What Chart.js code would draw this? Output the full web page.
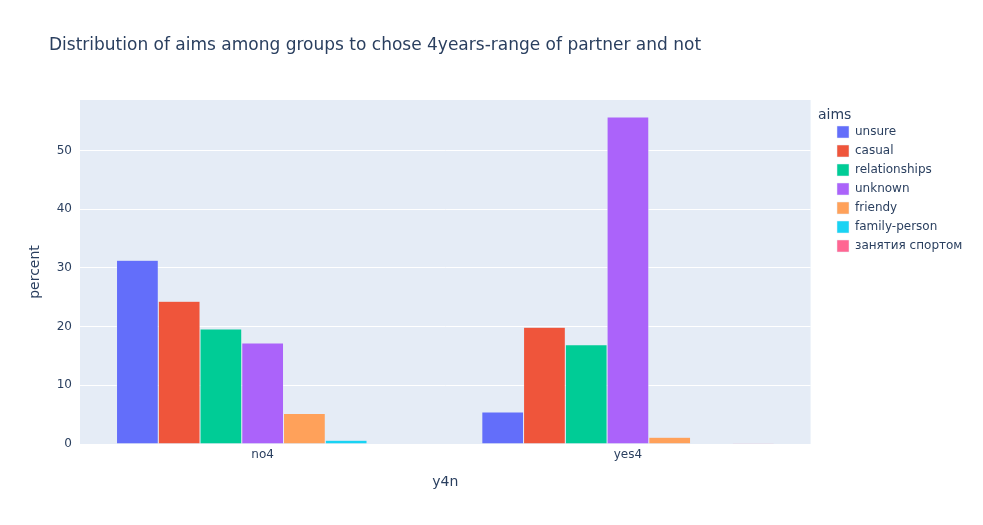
<!DOCTYPE html>
<html lang="en">
<head>
  <meta charset="UTF-8" />
  <title>Distribution of aims</title>
  <script src="https://cdn.jsdelivr.net/npm/chart.js"></script>
  <style>
    body {
      margin: 0;
      background: #ffffff;
    }
    #wrap {
      width: 983px;
      height: 525px;
    }
  </style>
</head>
<body>
  <div id="wrap"><canvas id="aimsChart"></canvas></div>

  <script>
    const groups = ['no4', 'yes4'];
    const aims = ['unsure', 'casual', 'relationships', 'unknown', 'friendy', 'family-person', 'занятия спортом'];
    const unsure = [31.3, 5.45];
    const casual = [24.3, 19.9];
    const relationships = [19.6, 16.9];
    const unknown = [17.2, 55.7];
    const friendy = [5.2, 1.15];
    const familyPerson = [0.65, 0.12];
    const sport = [0.1, 0.04];
    const yTicks = [0, 10, 20, 30, 40, 50];

    const seriesValues = [unsure, casual, relationships, unknown, friendy, familyPerson, sport];
    const colors = ['#636efa', '#EF553B', '#00cc96', '#ab63fa', '#FFA15A', '#19d3f3', '#FF6692'];
    const ink = '#2a3f5f';
    const font = 'DejaVu Sans';

    // plot background, legend title, and nudges to where plotly puts things
    const plotBg = {
      id: 'plotBg',
      beforeDraw(chart) {
        const a = chart.chartArea;
        const ctx = chart.ctx;
        ctx.save();
        ctx.fillStyle = '#E5ECF6';
        ctx.fillRect(a.left, a.top, a.right - a.left, a.bottom - a.top);
        ctx.restore();
      },
      afterLayout(chart) {
        if (chart.titleBlock) chart.titleBlock.left = 49;
        const lg = chart.legend;
        if (lg) {
          const w = lg.width, h = lg.height;
          lg.left = 830;
          lg.right = lg.left + w;
          lg.top = 119;
          lg.bottom = lg.top + h;
        }
      },
      afterDraw(chart) {
        const ctx = chart.ctx;
        ctx.save();
        ctx.fillStyle = ink;
        ctx.font = '14px "' + font + '"';
        ctx.textBaseline = 'middle';
        ctx.fillText('aims', 818, 115);
        ctx.restore();
      }
    };

    new Chart(document.getElementById('aimsChart'), {
      type: 'bar',
      data: {
        labels: groups,
        datasets: aims.map((name, i) => ({
          label: name,
          data: seriesValues[i],
          backgroundColor: colors[i],
          borderColor: '#E5ECF6',
          borderWidth: 0.5,
          categoryPercentage: 0.8,
          barPercentage: 1.0
        }))
      },
      options: {
        responsive: true,
        maintainAspectRatio: false,
        animation: false,
        layout: { padding: { left: 20, right: 30, top: 0, bottom: 30 } },
        plugins: {
          title: {
            display: true,
            text: 'Distribution of aims among groups to chose 4years-range of partner and not',
            align: 'start',
            color: ink,
            font: { family: font, size: 17, weight: 'normal' },
            padding: { top: 35, bottom: 44.6 }
          },
          legend: {
            position: 'right',
            align: 'start',
            fullSize: false,
            labels: {
              color: ink,
              font: { family: font, size: 12 },
              boxWidth: 12,
              boxHeight: 12,
              padding: 7
            }
          },
          tooltip: { enabled: false }
        },
        scales: {
          x: {
            grid: { display: false, drawTicks: false },
            border: { display: false },
            ticks: { color: ink, font: { family: font, size: 12 }, padding: 4 },
            title: {
              display: true,
              text: 'y4n',
              color: ink,
              font: { family: font, size: 14 },
              padding: { top: 4, bottom: 4 }
            },
            afterFit(scale) { scale.height = 51; }
          },
          y: {
            min: 0,
            max: 58.6,
            grid: { color: '#ffffff', lineWidth: 1, drawTicks: false },
            border: { display: false },
            afterBuildTicks(scale) { scale.ticks = yTicks.map(v => ({ value: v })); },
            ticks: { color: ink, font: { family: font, size: 12 }, padding: 8, includeBounds: false },
            title: {
              display: true,
              text: 'percent',
              color: ink,
              font: { family: font, size: 14 },
              padding: { top: 7, bottom: 4 }
            },
            afterFit(scale) { scale.width = 60; }
          }
        }
      },
      plugins: [plotBg]
    });
  </script>
</body>
</html>
